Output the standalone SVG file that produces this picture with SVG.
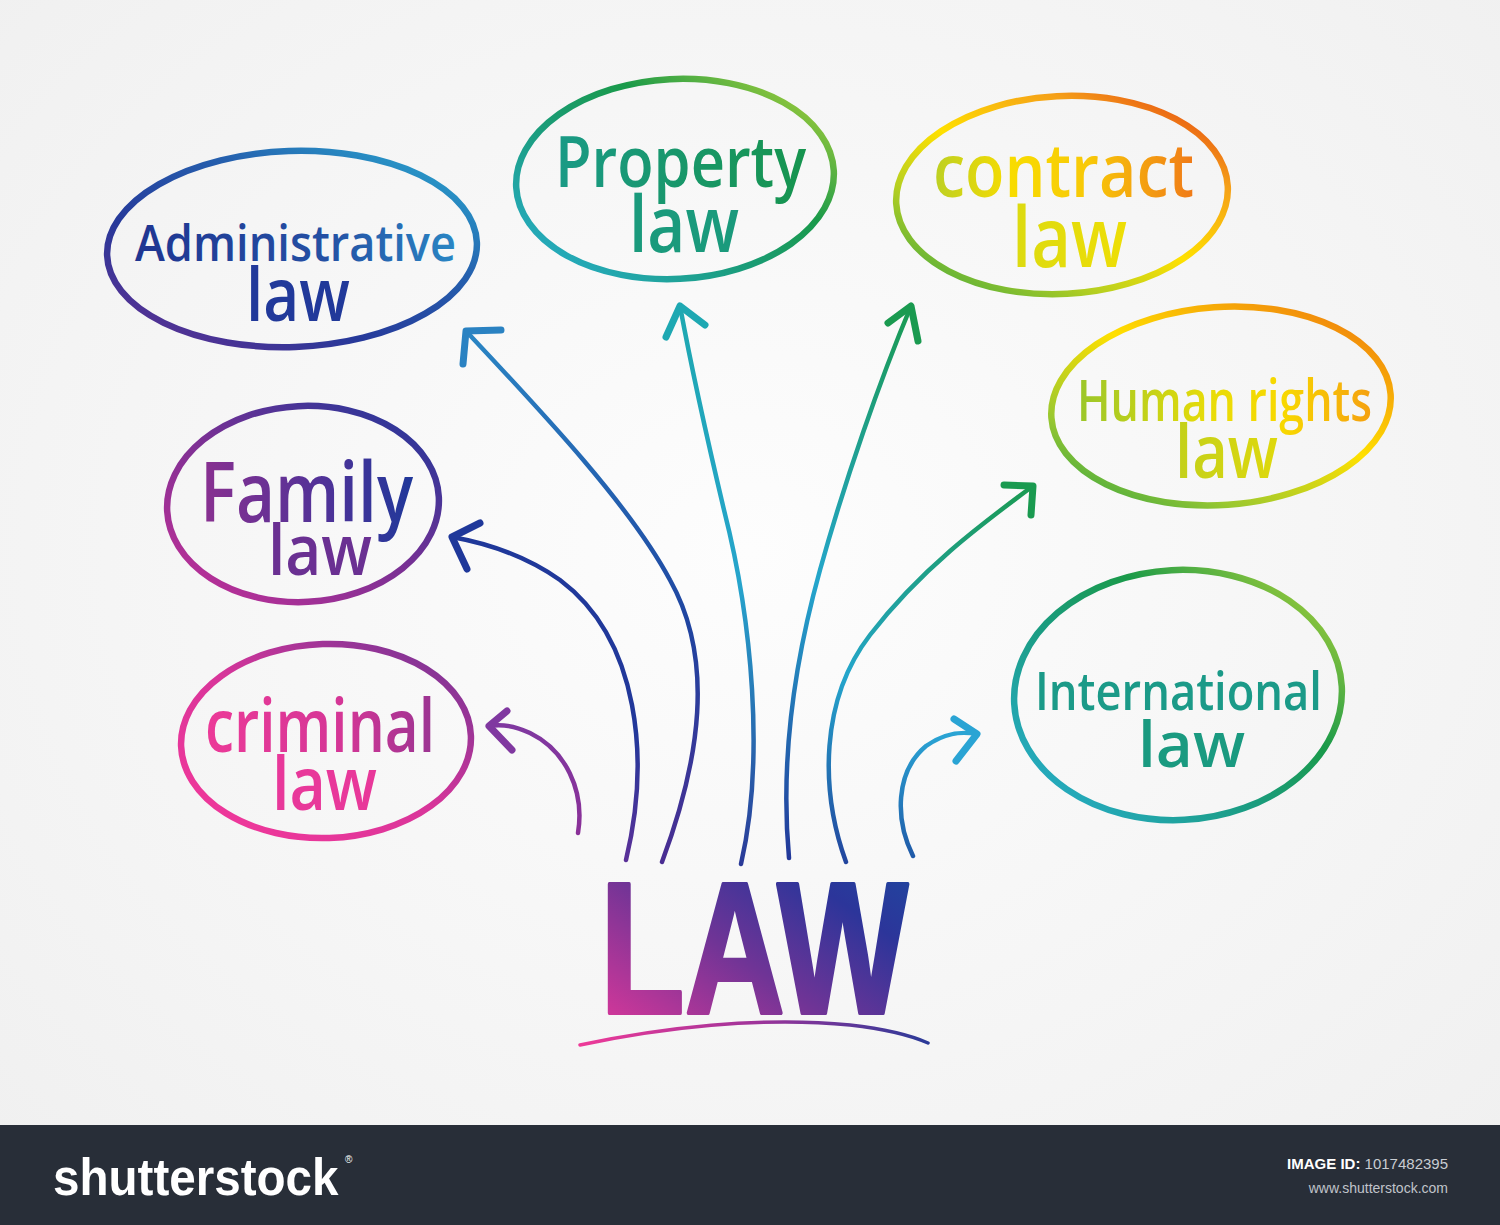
<svg xmlns="http://www.w3.org/2000/svg" width="1500" height="1225" viewBox="0 0 1500 1225">
<defs>
<style>
.hand{font-family:"Open Sans","Lato","Liberation Sans",sans-serif;font-weight:600;}
.ring{fill:none;stroke-width:6.5;}
.arr{fill:none;stroke-width:4.5;stroke-linecap:round;stroke-linejoin:round;}
.head{fill:none;stroke-width:7;stroke-linecap:round;stroke-linejoin:round;}
.foot{font-family:"Liberation Sans","Arial",sans-serif;}
</style>
<radialGradient id="bg" cx="0.5" cy="0.45" r="0.75">
<stop offset="0" stop-color="#fdfdfd"/><stop offset="1" stop-color="#efefef"/>
</radialGradient>
<linearGradient id="gAdmin" x1="0" y1="1" x2="1" y2="0">
<stop offset="0" stop-color="#6a2d90"/><stop offset="0.35" stop-color="#26399a"/><stop offset="0.65" stop-color="#2560ae"/><stop offset="1" stop-color="#2ab2d4"/>
</linearGradient>
<linearGradient id="gProp" x1="0" y1="1" x2="1" y2="0.2">
<stop offset="0" stop-color="#2ab0d8"/><stop offset="0.45" stop-color="#1a9c78"/><stop offset="0.7" stop-color="#1a9a4a"/><stop offset="1" stop-color="#9aca3a"/>
</linearGradient>
<linearGradient id="gContr" x1="0" y1="1" x2="1" y2="0">
<stop offset="0" stop-color="#2aa048"/><stop offset="0.3" stop-color="#b8d020"/><stop offset="0.5" stop-color="#ffe000"/><stop offset="0.75" stop-color="#f5a018"/><stop offset="1" stop-color="#e02a10"/>
</linearGradient>
<linearGradient id="gHuman" x1="0" y1="1" x2="1" y2="0">
<stop offset="0" stop-color="#1a9a4a"/><stop offset="0.25" stop-color="#9ac830"/><stop offset="0.55" stop-color="#ffe000"/><stop offset="1" stop-color="#ec6a10"/>
</linearGradient>
<linearGradient id="gIntl" x1="0" y1="1" x2="1" y2="0.2">
<stop offset="0" stop-color="#2ab0d8"/><stop offset="0.45" stop-color="#1a9c80"/><stop offset="0.7" stop-color="#1a9a4a"/><stop offset="1" stop-color="#9aca3a"/>
</linearGradient>
<linearGradient id="gFam" x1="0" y1="1" x2="1" y2="0">
<stop offset="0" stop-color="#c83098"/><stop offset="0.5" stop-color="#7a3094"/><stop offset="1" stop-color="#18389a"/>
</linearGradient>
<linearGradient id="gCrim" x1="0" y1="1" x2="1" y2="0">
<stop offset="0" stop-color="#f5389a"/><stop offset="0.5" stop-color="#d8359a"/><stop offset="1" stop-color="#6a3494"/>
</linearGradient>
<linearGradient id="tAdmin" x1="0" y1="0" x2="1" y2="0">
<stop offset="0" stop-color="#1f3591"/><stop offset="0.6" stop-color="#2450a4"/><stop offset="1" stop-color="#2a86c4"/>
</linearGradient>
<linearGradient id="tProp" x1="0" y1="0" x2="1" y2="0">
<stop offset="0" stop-color="#1a9a86"/><stop offset="1" stop-color="#16944e"/>
</linearGradient>
<linearGradient id="tContr" x1="0" y1="0" x2="1" y2="0">
<stop offset="0" stop-color="#bcd024"/><stop offset="0.3" stop-color="#f8dc00"/><stop offset="0.6" stop-color="#f8c808"/><stop offset="1" stop-color="#f07a18"/>
</linearGradient>
<linearGradient id="tContrL" x1="0" y1="0" x2="1" y2="0">
<stop offset="0" stop-color="#d0d818"/><stop offset="1" stop-color="#f8e000"/>
</linearGradient>
<linearGradient id="tHuman" x1="0" y1="0" x2="1" y2="0">
<stop offset="0" stop-color="#9ac62a"/><stop offset="0.45" stop-color="#e8dc08"/><stop offset="0.7" stop-color="#f8d800"/><stop offset="1" stop-color="#f5a010"/>
</linearGradient>
<linearGradient id="tHumanL" x1="0" y1="0" x2="1" y2="0">
<stop offset="0" stop-color="#a8c828"/><stop offset="1" stop-color="#f8e000"/>
</linearGradient>
<linearGradient id="tFam" x1="0" y1="0" x2="1" y2="0">
<stop offset="0" stop-color="#8a3090"/><stop offset="0.6" stop-color="#4e3298"/><stop offset="1" stop-color="#20389a"/>
</linearGradient>
<linearGradient id="tCrim" x1="0" y1="0" x2="1" y2="0">
<stop offset="0" stop-color="#ec3a98"/><stop offset="0.6" stop-color="#d43696"/><stop offset="1" stop-color="#9a3492"/>
</linearGradient>
<linearGradient id="tLaw" x1="0" y1="1" x2="1" y2="0">
<stop offset="0" stop-color="#ea389a"/><stop offset="0.45" stop-color="#703496"/><stop offset="0.75" stop-color="#2c359a"/><stop offset="1" stop-color="#1d4aa0"/>
</linearGradient>
<linearGradient id="uLine" x1="580" y1="0" x2="928" y2="0" gradientUnits="userSpaceOnUse">
<stop offset="0" stop-color="#ee3a98"/><stop offset="0.5" stop-color="#a0349a"/><stop offset="1" stop-color="#2a3a98"/>
</linearGradient>
<linearGradient id="aAdmin" x1="0" y1="862" x2="0" y2="330" gradientUnits="userSpaceOnUse">
<stop offset="0" stop-color="#4a2d92"/><stop offset="0.45" stop-color="#1f44a0"/><stop offset="1" stop-color="#2a86c4"/>
</linearGradient>
<linearGradient id="aProp" x1="0" y1="864" x2="0" y2="305" gradientUnits="userSpaceOnUse">
<stop offset="0" stop-color="#2a3a98"/><stop offset="0.5" stop-color="#26a4cc"/><stop offset="1" stop-color="#1ea8b0"/>
</linearGradient>
<linearGradient id="aContr" x1="0" y1="858" x2="0" y2="305" gradientUnits="userSpaceOnUse">
<stop offset="0" stop-color="#22389a"/><stop offset="0.5" stop-color="#24a6cc"/><stop offset="1" stop-color="#1a9a50"/>
</linearGradient>
<linearGradient id="aHuman" x1="0" y1="864" x2="0" y2="485" gradientUnits="userSpaceOnUse">
<stop offset="0" stop-color="#22449e"/><stop offset="0.5" stop-color="#24a6cc"/><stop offset="1" stop-color="#1a9a50"/>
</linearGradient>
<linearGradient id="aIntl" x1="0" y1="856" x2="0" y2="734" gradientUnits="userSpaceOnUse">
<stop offset="0" stop-color="#1f5aa8"/><stop offset="1" stop-color="#2aa4d4"/>
</linearGradient>
<linearGradient id="aFam" x1="0" y1="860" x2="0" y2="537" gradientUnits="userSpaceOnUse">
<stop offset="0" stop-color="#5a3098"/><stop offset="0.4" stop-color="#22389a"/><stop offset="1" stop-color="#1f389a"/>
</linearGradient>
<linearGradient id="aCrim" x1="0" y1="833" x2="0" y2="726" gradientUnits="userSpaceOnUse">
<stop offset="0" stop-color="#8a3098"/><stop offset="1" stop-color="#8038a0"/>
</linearGradient>
</defs>

<rect x="0" y="0" width="1500" height="1225" fill="url(#bg)"/>

<g id="connectors">
<g id="arrow-administrative">
<path class="arr" stroke="url(#aAdmin)" d="M662,862 C700,760 715,660 670,580 C630,505 540,410 466,331"/>
<polyline class="head" stroke="#2a82c2" points="501,330 466,331 463,364"/>
</g>
<g id="arrow-property">
<path class="arr" stroke="url(#aProp)" d="M741,864 C765,760 752,620 724,510 C705,430 690,360 680,306"/>
<polyline class="head" stroke="#1ea8b2" points="666,337 680,306 705,325"/>
</g>
<g id="arrow-contract">
<path class="arr" stroke="url(#aContr)" d="M789,858 C780,760 795,660 820,570 C845,480 880,380 911,306"/>
<polyline class="head" stroke="#1a9a50" points="888,323 911,306 918,341"/>
</g>
<g id="arrow-human">
<path class="arr" stroke="url(#aHuman)" d="M846,862 C820,790 820,700 870,635 C920,570 980,525 1033,486"/>
<polyline class="head" stroke="#1a9a50" points="1004,485 1033,486 1031,515"/>
</g>
<g id="arrow-international">
<path class="arr" stroke="url(#aIntl)" d="M913,856 C895,820 895,772 926,746 C944,733 960,731 977,734"/>
<polyline class="head" stroke="#2aa4d4" points="954,719 977,734 956,761"/>
</g>
<g id="arrow-family">
<path class="arr" stroke="url(#aFam)" stroke-width="5.5" d="M626,860 C650,760 640,640 560,580 C520,552 480,542 452,537"/>
<polyline class="head" stroke="#1f389a" points="480,523 452,537 467,569"/>
</g>
<g id="arrow-criminal">
<path class="arr" stroke="url(#aCrim)" stroke-width="5" d="M578,833 C585,790 565,750 530,733 C515,726 500,724 489,726"/>
<polyline class="head" stroke="#8038a0" points="507,711 489,726 512,750"/>
</g>
</g>

<g id="node-administrative">
<ellipse class="ring" stroke="url(#gAdmin)" cx="292" cy="249" rx="185" ry="98" transform="rotate(-2 292 249)"/>
<text class="hand"><tspan x="135" y="261" font-size="50" textLength="321" lengthAdjust="spacingAndGlyphs" fill="url(#tAdmin)">Administrative</tspan><tspan x="246" y="321" font-size="74" textLength="104" lengthAdjust="spacingAndGlyphs" fill="#21399a">law</tspan></text>
</g>

<g id="node-property">
<ellipse class="ring" stroke="url(#gProp)" cx="675" cy="179" rx="159" ry="100" transform="rotate(-3 675 179)"/>
<text class="hand"><tspan x="555" y="187" font-size="70" textLength="251" lengthAdjust="spacingAndGlyphs" fill="url(#tProp)">Property</tspan><tspan x="629" y="252" font-size="78" textLength="110" lengthAdjust="spacingAndGlyphs" fill="#1a9a7c">law</tspan></text>
</g>

<g id="node-contract">
<ellipse class="ring" stroke="url(#gContr)" cx="1062" cy="195" rx="166" ry="99" transform="rotate(-3 1062 195)"/>
<text class="hand"><tspan x="933" y="197" font-size="74" textLength="261" lengthAdjust="spacingAndGlyphs" fill="url(#tContr)">contract</tspan><tspan x="1012" y="267" font-size="84" textLength="115" lengthAdjust="spacingAndGlyphs" fill="url(#tContrL)">law</tspan></text>
</g>

<g id="node-human-rights">
<ellipse class="ring" stroke="url(#gHuman)" cx="1221" cy="406" rx="170" ry="99" transform="rotate(-4 1221 406)"/>
<text class="hand"><tspan x="1077" y="421" font-size="58" textLength="295" lengthAdjust="spacingAndGlyphs" fill="url(#tHuman)">Human rights</tspan><tspan x="1175" y="478" font-size="74" textLength="103" lengthAdjust="spacingAndGlyphs" fill="url(#tHumanL)">law</tspan></text>
</g>

<g id="node-international">
<ellipse class="ring" stroke="url(#gIntl)" cx="1178" cy="695" rx="164" ry="125" transform="rotate(-3 1178 695)"/>
<text class="hand"><tspan x="1035" y="710" font-size="52" textLength="287" lengthAdjust="spacingAndGlyphs" fill="#1b9a88">International</tspan><tspan x="1138" y="767" font-size="64" textLength="107" lengthAdjust="spacingAndGlyphs" fill="#1a9a80">law</tspan></text>
</g>

<g id="node-family">
<ellipse class="ring" stroke="url(#gFam)" cx="303" cy="504" rx="136" ry="98" transform="rotate(-3 303 504)"/>
<text class="hand"><tspan x="200" y="522" font-size="84" textLength="213" lengthAdjust="spacingAndGlyphs" fill="url(#tFam)">Family</tspan><tspan x="268" y="575" font-size="70" textLength="104" lengthAdjust="spacingAndGlyphs" fill="#6a3092">law</tspan></text>
</g>

<g id="node-criminal">
<ellipse class="ring" stroke="url(#gCrim)" cx="326" cy="741" rx="145" ry="97" transform="rotate(-2 326 741)"/>
<text class="hand"><tspan x="205" y="752" font-size="74" textLength="230" lengthAdjust="spacingAndGlyphs" fill="url(#tCrim)">criminal</tspan><tspan x="272" y="810" font-size="74" textLength="105" lengthAdjust="spacingAndGlyphs" fill="#e8389a">law</tspan></text>
</g>

<g id="node-law">
<text x="600" y="1013" font-family="'Liberation Sans','Arial',sans-serif" font-weight="700" font-size="188" textLength="308" lengthAdjust="spacingAndGlyphs" fill="url(#tLaw)" stroke="url(#tLaw)" stroke-width="4" stroke-linejoin="round">LAW</text>
<path d="M580,1045 C660,1028 760,1016 850,1025 C885,1029 910,1035 928,1043" fill="none" stroke="url(#uLine)" stroke-width="3.5" stroke-linecap="round"/>
</g>

<g id="footer">
<rect x="0" y="1125" width="1500" height="100" fill="#282e38"/>
<text class="foot" transform="translate(53 1195) scale(0.915 1)" font-size="52" font-weight="700" fill="#ffffff">shutterstock</text>
<text class="foot" x="345" y="1163" font-size="10" fill="#ffffff">®</text>
<text class="foot" x="1448" y="1169" font-size="15" fill="#ffffff" text-anchor="end"><tspan font-weight="700">IMAGE ID:</tspan><tspan fill="#c8ccd2"> 1017482395</tspan></text>
<text class="foot" x="1448" y="1193" font-size="14" fill="#c0c4ca" text-anchor="end">www.shutterstock.com</text>
</g>
</svg>
